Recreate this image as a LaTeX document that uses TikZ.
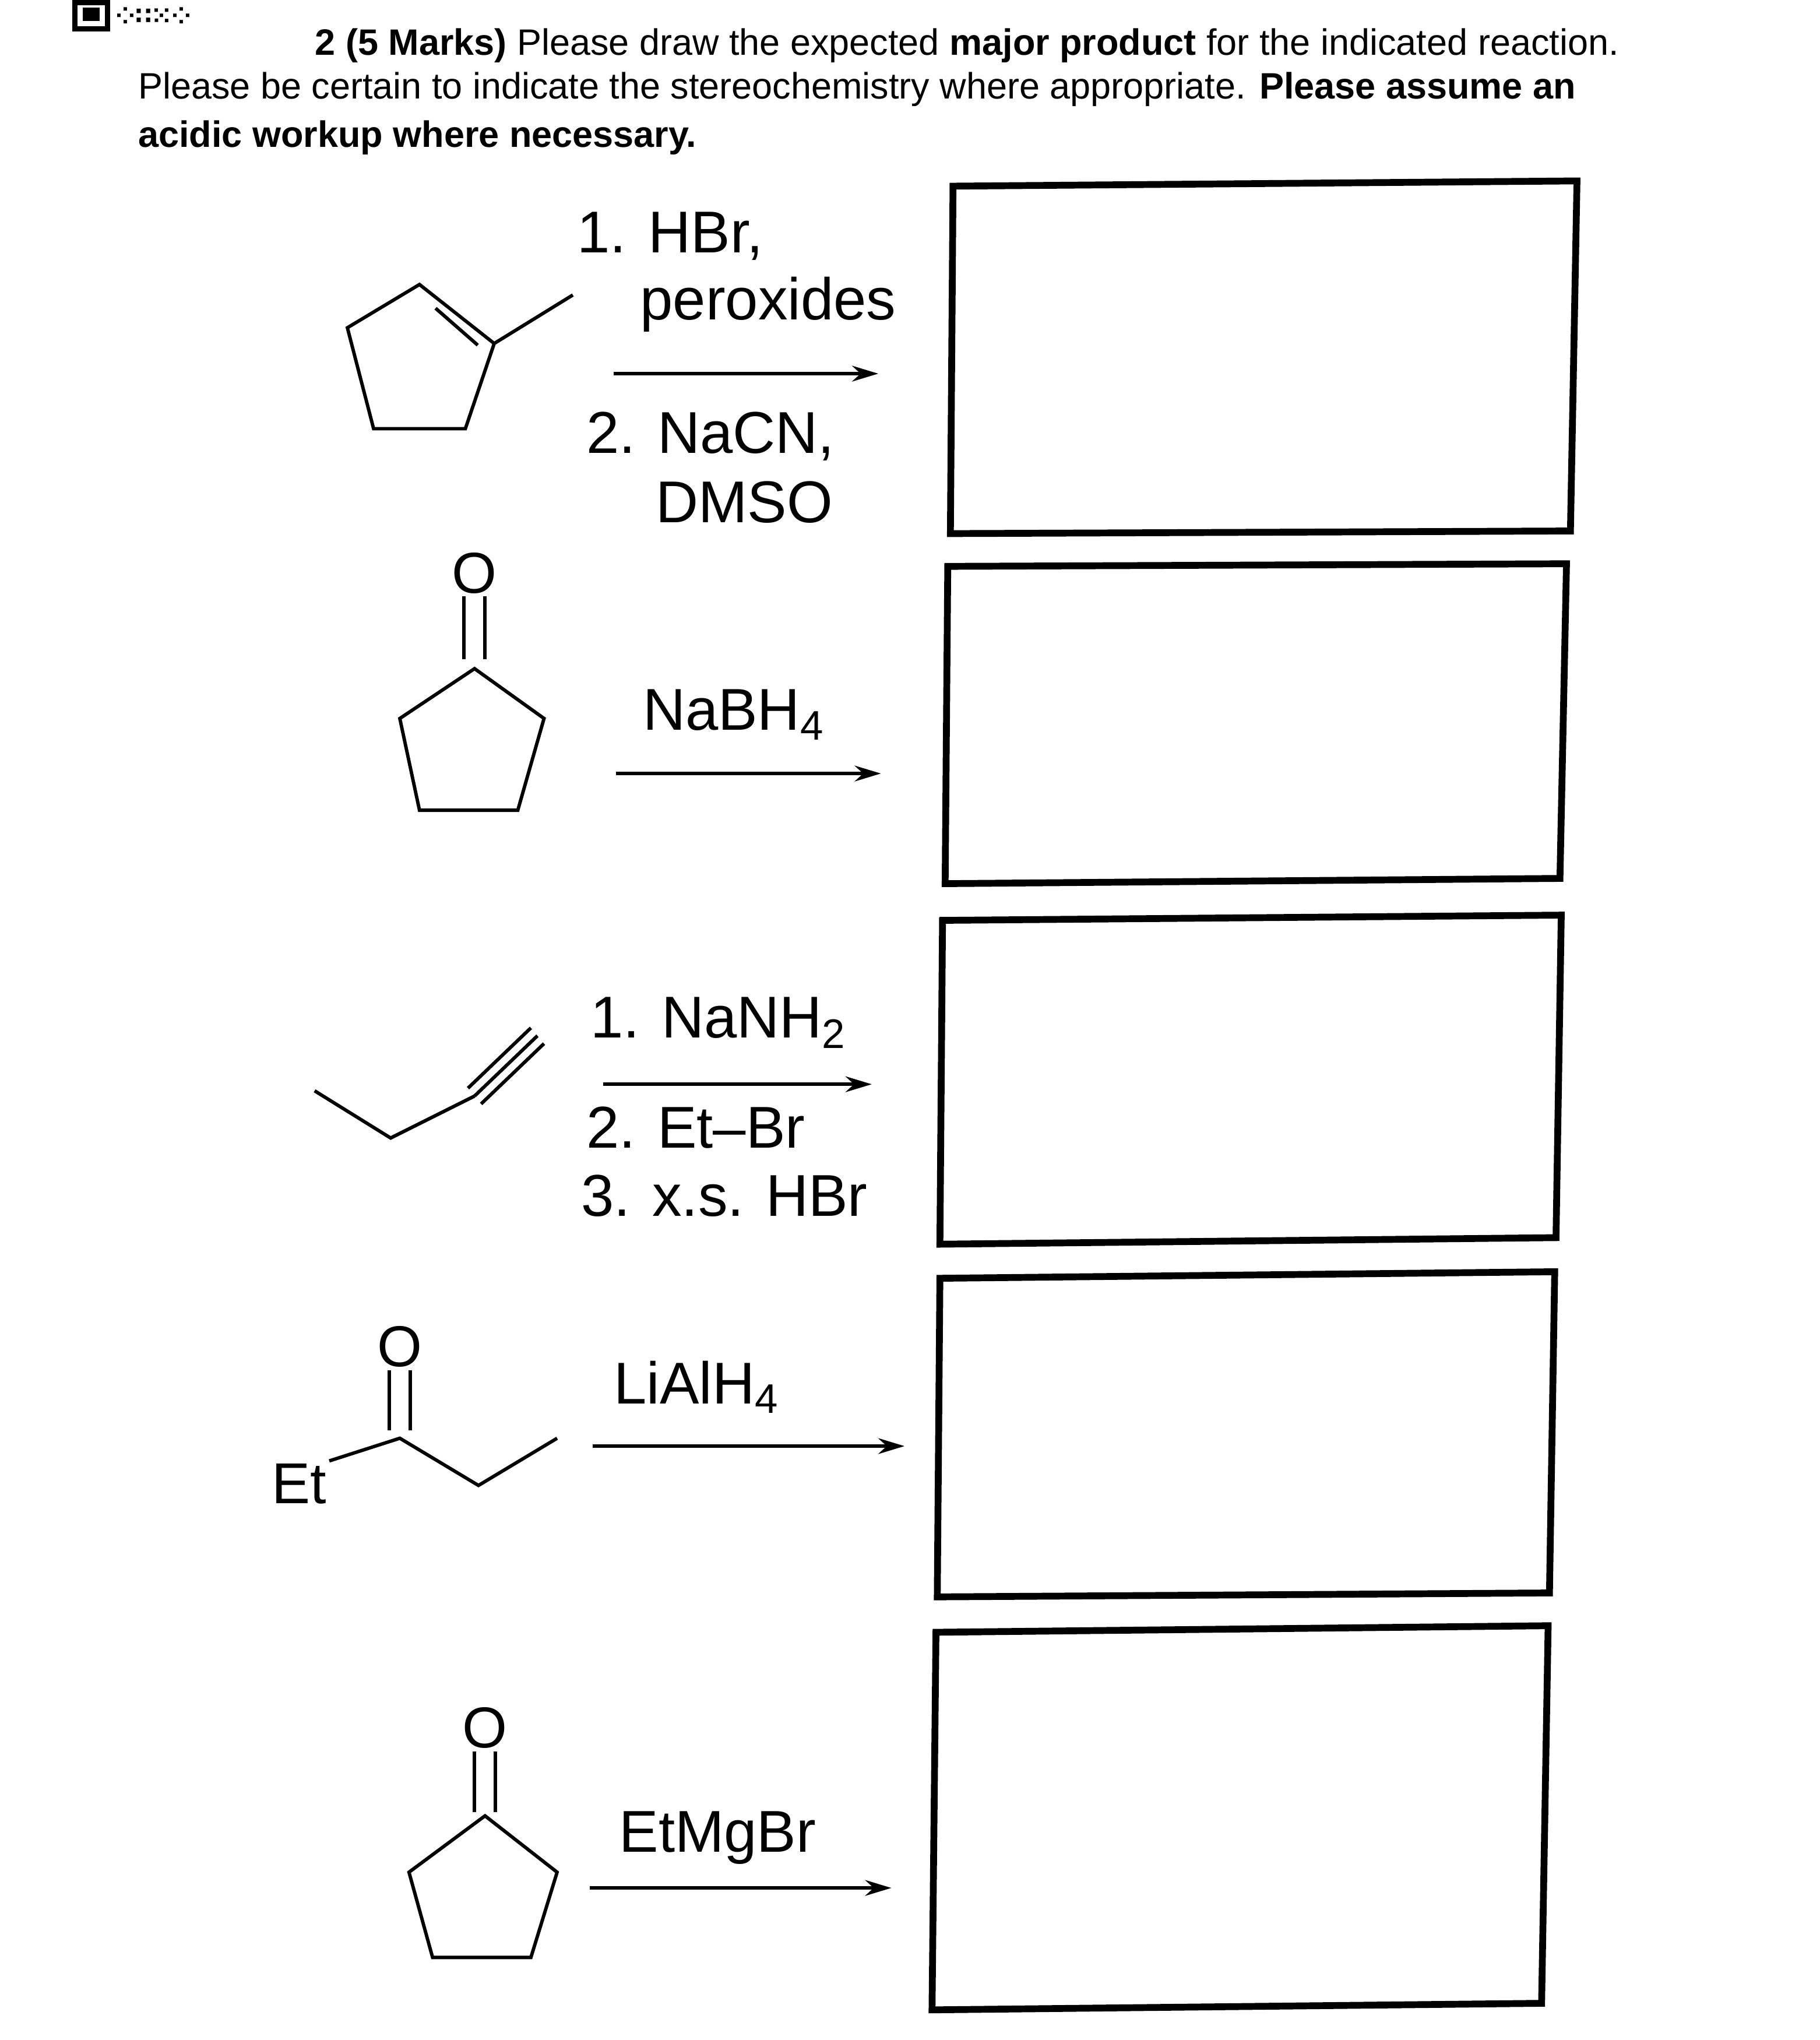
\documentclass[tikz,border=0pt]{standalone}
\usepackage{fontspec}
\setmainfont{Liberation Sans}
\newfontfamily\djv{DejaVu Sans}
\usetikzlibrary{arrows.meta,calc}
\begin{document}
\begin{tikzpicture}[x=0.5pt,y=-0.5pt,
  bond/.style={line width=1.3pt},
  rxarrow/.style={line width=1.3pt,-{Stealth[length=10pt,width=6pt]}},
  ansbox/.style={line width=2.6pt},
  reag/.style={font=\fontsize{22.5}{24}\selectfont,inner sep=0pt,anchor=west},
  atom/.style={font=\fontsize{22}{24}\selectfont,inner sep=1pt},
  hdr/.style={font=\fontsize{14}{16}\selectfont,inner sep=0pt,anchor=west}]
\useasboundingbox (0,0) rectangle (1388,1556);
\fill[white] (0,0) rectangle (1388,1556);
% header
\draw[line width=2pt] (57,2) rectangle (82,22);
\fill (63,6) rectangle (76,16);
\node[hdr,font=\fontsize{9}{10}\selectfont\djv\bfseries] (qr) at (88,12) {⁘∷⁙⁘};
\node[hdr] (h1) at (240,35) {\textbf{2 (5 Marks)} Please draw the expected \textbf{major product} for the indicated reaction.};
\node[hdr] (h2) at (105,68) {Please be certain to indicate the stereochemistry where appropriate. \textbf{Please assume an}};
\node[hdr] (h3) at (105,105) {\textbf{acidic workup where necessary.}};
% boxes
\draw[ansbox] (727,142) -- (1203,138) -- (1198,405) -- (725,407) -- cycle;
\draw[ansbox] (723,432) -- (1195,430) -- (1190,670) -- (721,674) -- cycle;
\draw[ansbox] (719,702) -- (1191,698) -- (1187,944) -- (717,949) -- cycle;
\draw[ansbox] (717,975) -- (1186,970) -- (1182,1215) -- (715,1218) -- cycle;
\draw[ansbox] (714,1245) -- (1181,1240) -- (1176,1528) -- (711,1533) -- cycle;
% reaction 1
\coordinate (a1) at (265,250); \coordinate (a2) at (320,217); \coordinate (a3) at (377,262);
\coordinate (a4) at (355,327); \coordinate (a5) at (285,327); \coordinate (a6) at (437,225);
\draw[bond] (a1)--(a2)--(a3)--(a4)--(a5)--cycle (a3)--(a6);
\draw[bond] ($(a2)!0.18!(a3)+(2,10)$) -- ($(a2)!0.85!(a3)+(-4,8)$);
\node[reag] (r1a) at (440,180) {1. HBr,};
\node[reag] (r1b) at (488,232) {peroxides};
\node[reag] (r1c) at (447,333) {2. NaCN,};
\node[reag] (r1d) at (500,383) {DMSO};
\coordinate (p1s) at (468,285); \coordinate (p1e) at (670,285);
\draw[rxarrow] (p1s)--(p1e);
% reaction 2
\node[atom] (o2) at (362,437) {O};
\coordinate (b1) at (362,510); \coordinate (b2) at (305,548); \coordinate (b3) at (320,618);
\coordinate (b4) at (395,618); \coordinate (b5) at (415,548);
\draw[bond] (b1)--(b2)--(b3)--(b4)--(b5)--cycle;
\draw[bond] ([xshift=-4]o2.south) -- ++(0,48) ([xshift=4]o2.south) -- ++(0,48);
\node[reag] (r2) at (490,545) {NaBH\textsubscript{4}};
\coordinate (p2s) at (470,590); \coordinate (p2e) at (672,590);
\draw[rxarrow] (p2s)--(p2e);
% reaction 3
\coordinate (c1) at (240,832); \coordinate (c2) at (298,868); \coordinate (c3) at (362,836); \coordinate (c4) at (410,790);
\draw[bond] (c1)--(c2)--(c3);
\draw[bond] (c3)--(c4) ($(c3)+(-5,-6)$)--($(c4)+(-5,-6)$) ($(c3)+(5,6)$)--($(c4)+(5,6)$);
\node[reag] (r3a) at (450,780) {1. NaNH\textsubscript{2}};
\node[reag] (r3b) at (447,860) {2. Et–Br};
\node[reag] (r3c) at (443,912) {3. x.s. HBr};
\coordinate (p3s) at (460,827); \coordinate (p3e) at (665,827);
\draw[rxarrow] (p3s)--(p3e);
% reaction 4
\node[atom] (et) at (228,1132) {Et};
\node[atom] (o4) at (305,1027) {O};
\coordinate (d1) at (305,1097); \coordinate (d2) at (365,1133); \coordinate (d3) at (425,1097);
\draw[bond] (et.north east) -- (d1) -- (d2) -- (d3);
\draw[bond] ([xshift=-4]o4.south) -- ++(0,46) ([xshift=4]o4.south) -- ++(0,46);
\node[reag] (r4) at (468,1058) {LiAlH\textsubscript{4}};
\coordinate (p4s) at (452,1103); \coordinate (p4e) at (690,1103);
\draw[rxarrow] (p4s)--(p4e);
% reaction 5
\node[atom] (o5) at (370,1318) {O};
\coordinate (e1) at (370,1385); \coordinate (e2) at (312,1428); \coordinate (e3) at (330,1493);
\coordinate (e4) at (405,1493); \coordinate (e5) at (425,1428);
\draw[bond] (e1)--(e2)--(e3)--(e4)--(e5)--cycle;
\draw[bond] ([xshift=-4]o5.south) -- ++(0,46) ([xshift=4]o5.south) -- ++(0,46);
\node[reag] (r5) at (472,1402) {EtMgBr};
\coordinate (p5s) at (450,1440); \coordinate (p5e) at (680,1440);
\draw[rxarrow] (p5s)--(p5e);
\end{tikzpicture}
\end{document}
